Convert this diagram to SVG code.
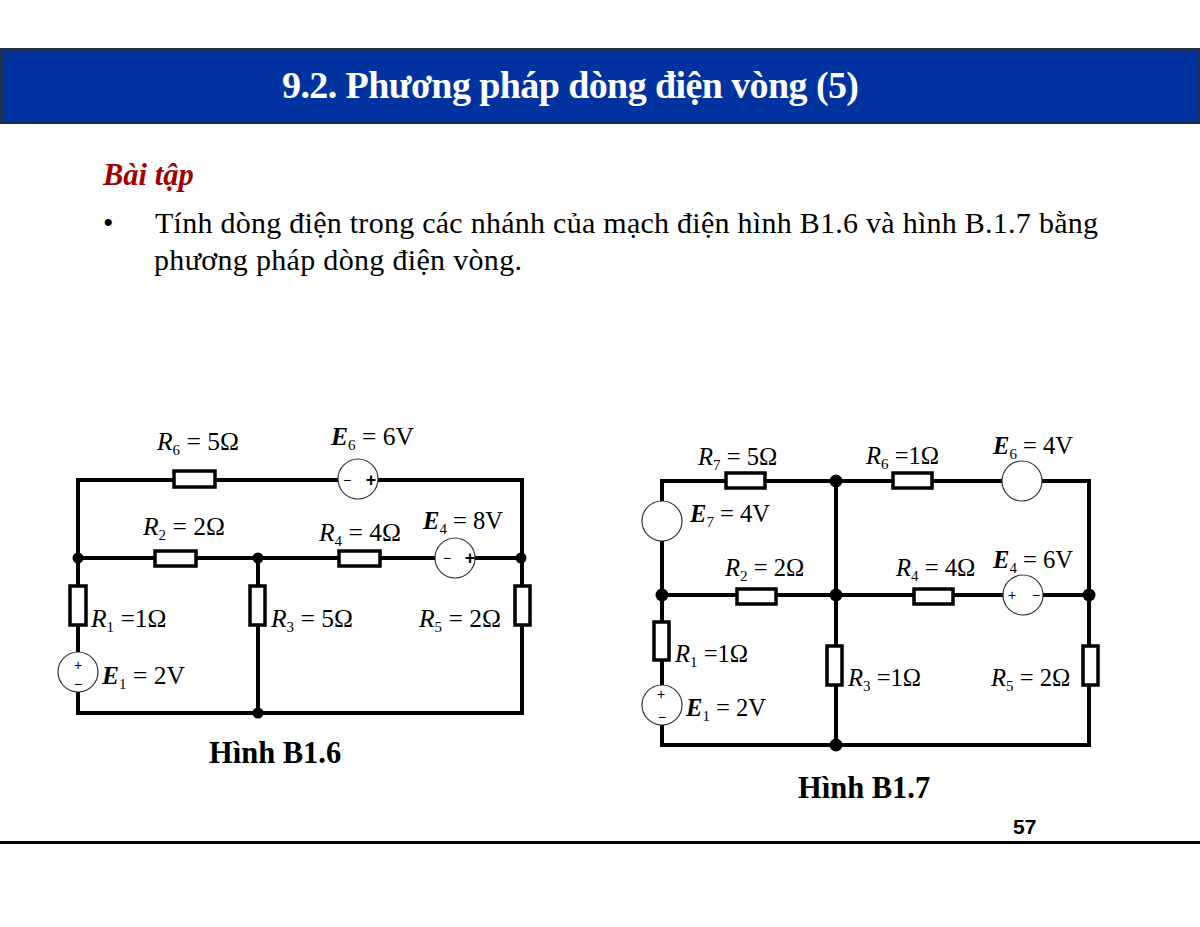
<svg xmlns="http://www.w3.org/2000/svg" width="1200" height="927" viewBox="0 0 1200 927">
<style>
text{font-family:"Liberation Serif","Times New Roman",serif;fill:#000}
.w{fill:none;stroke:#000;stroke-width:4;stroke-linejoin:miter;stroke-linecap:square}
.r{fill:#fff;stroke:#000;stroke-width:3.5}
.s{fill:#fff;stroke:#333;stroke-width:1.2}
.d{fill:#000}
.l{font-size:25.5px}
[id^="B17-"] .l,#B16-E4 .l{font-size:24.6px}
.i{font-style:italic}
.e{font-style:italic;font-weight:bold}
.sub{font-size:15px}
.sg{font-family:"Liberation Sans",Arial,sans-serif;font-size:14px;text-anchor:middle}
.sb{font-family:"Liberation Sans",Arial,sans-serif;font-size:18px;font-weight:bold;text-anchor:middle}
.cap{font-size:30.5px;font-weight:bold}
.body{font-size:30px}
</style>
<g id="header">
<rect x="1.500" y="49.500" width="1197" height="73" fill="#0033a0" stroke="#1f3050" stroke-width="3"/>
<text x="282" y="98" font-size="38" font-weight="bold" style="fill:#fff" textLength="577" lengthAdjust="spacing">9.2. Phương pháp dòng điện vòng (5)</text>
</g>
<g id="content">
<text x="103" y="185" font-size="30.500" font-style="italic" font-weight="bold" style="fill:#a00000">Bài tập</text>
<text x="103" y="233" class="body">•</text>
<text x="155" y="233" class="body" textLength="943" lengthAdjust="spacing">Tính dòng điện trong các nhánh của mạch điện hình B1.6 và hình B.1.7 bằng</text>
<text x="154" y="270" class="body" textLength="368" lengthAdjust="spacing">phương pháp dòng điện vòng.</text>
</g>
<g id="connectors">
<path class="w" d="M522 480H78V713H522V480M78 558H522M258 558V713"/>
<path class="w" d="M1089 481H662V745H1089V481M662 595H1089M836 481V745"/>
</g>
<g id="B16-R6"><rect class="r" x="174" y="471" width="41" height="16"/><text class="l" x="157" y="450"><tspan class="i">R</tspan><tspan class="sub" dy="5">6</tspan><tspan dy="-5"> = 5Ω</tspan></text></g>
<g id="B16-E6"><circle class="s" cx="358" cy="479" r="20"/><text class="sg" x="347" y="485">−</text><text class="sb" x="371" y="486">+</text><text class="l" x="331" y="445"><tspan class="e">E</tspan><tspan class="sub" dy="5">6</tspan><tspan dy="-5"> = 6V</tspan></text></g>
<g id="B16-R2"><rect class="r" x="155" y="551" width="41" height="15"/><text class="l" x="143" y="535"><tspan class="i">R</tspan><tspan class="sub" dy="5">2</tspan><tspan dy="-5"> = 2Ω</tspan></text></g>
<g id="B16-R4"><rect class="r" x="339" y="551" width="41" height="15"/><text class="l" x="319" y="541"><tspan class="i">R</tspan><tspan class="sub" dy="5">4</tspan><tspan dy="-5"> = 4Ω</tspan></text></g>
<g id="B16-E4"><circle class="s" cx="455" cy="558" r="20"/><text class="sg" x="447" y="563">−</text><text class="sb" x="470" y="564">+</text><text class="l" x="423" y="529"><tspan class="e">E</tspan><tspan class="sub" dy="5">4</tspan><tspan dy="-5"> = 8V</tspan></text></g>
<g id="B16-R1"><rect class="r" x="70" y="586" width="16" height="39"/><text class="l" x="91" y="627"><tspan class="i">R</tspan><tspan class="sub" dy="5">1</tspan><tspan dy="-5"> =1Ω</tspan></text></g>
<g id="B16-E1"><circle class="s" cx="78" cy="672" r="20"/><text class="sg" x="78" y="670">+</text><text class="sg" x="78" y="689">−</text><text class="l" x="102" y="684"><tspan class="e">E</tspan><tspan class="sub" dy="5">1</tspan><tspan dy="-5"> = 2V</tspan></text></g>
<g id="B16-R3"><rect class="r" x="250" y="586" width="15" height="39"/><text class="l" x="271" y="627"><tspan class="i">R</tspan><tspan class="sub" dy="5">3</tspan><tspan dy="-5"> = 5Ω</tspan></text></g>
<g id="B16-R5"><rect class="r" x="515" y="586" width="15" height="39"/><text class="l" x="419" y="627"><tspan class="i">R</tspan><tspan class="sub" dy="5">5</tspan><tspan dy="-5"> = 2Ω</tspan></text></g>
<g id="B16-nodes"><circle class="d" cx="78" cy="558" r="5.500"/><circle class="d" cx="258" cy="558" r="5.500"/><circle class="d" cx="521" cy="558" r="5.500"/><circle class="d" cx="258" cy="713" r="5.500"/></g>
<text id="B16-caption" class="cap" x="209" y="763">Hình B1.6</text>
<g id="B17-R7"><rect class="r" x="726" y="473" width="39" height="15"/><text class="l" x="698" y="465"><tspan class="i">R</tspan><tspan class="sub" dy="5">7</tspan><tspan dy="-5"> = 5Ω</tspan></text></g>
<g id="B17-E7"><circle class="s" cx="662" cy="521" r="20"/><text class="l" x="690" y="522"><tspan class="e">E</tspan><tspan class="sub" dy="5">7</tspan><tspan dy="-5"> = 4V</tspan></text></g>
<g id="B17-R6"><rect class="r" x="893" y="473" width="39" height="15"/><text class="l" x="866" y="464"><tspan class="i">R</tspan><tspan class="sub" dy="5">6</tspan><tspan dy="-5"> =1Ω</tspan></text></g>
<g id="B17-E6"><circle class="s" cx="1022" cy="481" r="20"/><text class="l" x="993" y="454"><tspan class="e">E</tspan><tspan class="sub" dy="5">6</tspan><tspan dy="-5"> = 4V</tspan></text></g>
<g id="B17-R2"><rect class="r" x="737" y="589" width="39" height="15"/><text class="l" x="725" y="576"><tspan class="i">R</tspan><tspan class="sub" dy="5">2</tspan><tspan dy="-5"> = 2Ω</tspan></text></g>
<g id="B17-R4"><rect class="r" x="914" y="589" width="39" height="15"/><text class="l" x="896" y="576"><tspan class="i">R</tspan><tspan class="sub" dy="5">4</tspan><tspan dy="-5"> = 4Ω</tspan></text></g>
<g id="B17-E4"><circle class="s" cx="1023" cy="595" r="20"/><text class="sg" x="1012" y="600">+</text><text class="sg" x="1036" y="600">−</text><text class="l" x="993" y="568"><tspan class="e">E</tspan><tspan class="sub" dy="5">4</tspan><tspan dy="-5"> = 6V</tspan></text></g>
<g id="B17-R1"><rect class="r" x="654" y="622" width="15" height="38"/><text class="l" x="675" y="662"><tspan class="i">R</tspan><tspan class="sub" dy="5">1</tspan><tspan dy="-5"> =1Ω</tspan></text></g>
<g id="B17-E1"><circle class="s" cx="662" cy="705" r="20"/><text class="sg" x="661" y="699">+</text><text class="sg" x="662" y="722">−</text><text class="l" x="686" y="716"><tspan class="e">E</tspan><tspan class="sub" dy="5">1</tspan><tspan dy="-5"> = 2V</tspan></text></g>
<g id="B17-R3"><rect class="r" x="827" y="646" width="15" height="39"/><text class="l" x="848" y="686"><tspan class="i">R</tspan><tspan class="sub" dy="5">3</tspan><tspan dy="-5"> =1Ω</tspan></text></g>
<g id="B17-R5"><rect class="r" x="1083" y="646" width="15" height="39"/><text class="l" x="991" y="686"><tspan class="i">R</tspan><tspan class="sub" dy="5">5</tspan><tspan dy="-5"> = 2Ω</tspan></text></g>
<g id="B17-nodes"><circle class="d" cx="836" cy="481" r="6.500"/><circle class="d" cx="662" cy="595" r="6.500"/><circle class="d" cx="836" cy="595" r="6.500"/><circle class="d" cx="1089" cy="595" r="6.500"/><circle class="d" cx="836" cy="745" r="6.500"/></g>
<text id="B17-caption" class="cap" x="798" y="798">Hình B1.7</text>
<g id="footer">
<text x="1013" y="834" font-size="21" font-weight="bold" style="font-family:'Liberation Sans',Arial,sans-serif">57</text>
<rect x="0" y="841" width="1200" height="3" fill="#000"/>
</g>
</svg>
